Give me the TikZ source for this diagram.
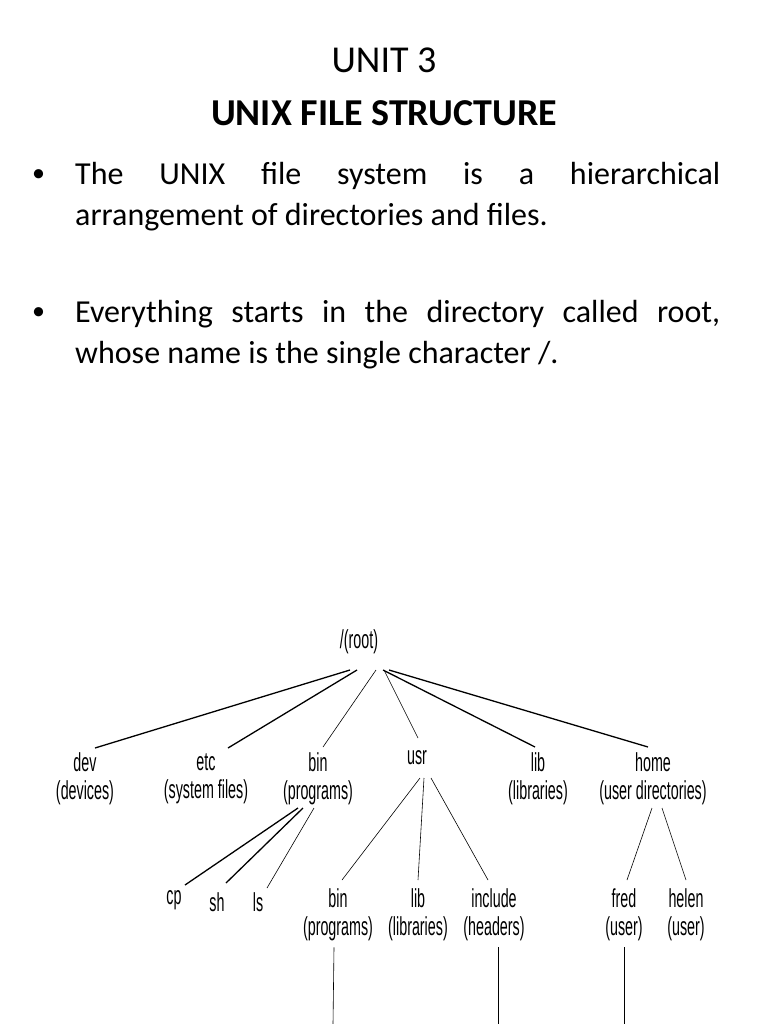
\documentclass[tikz,border=0pt]{standalone}
\usepackage{fontspec}
\setmainfont{Carlito}
\newfontfamily\treefont{Liberation Sans}
\begin{document}
\begin{tikzpicture}[x=1pt,y=-1pt,
  lab/.style={font=\treefont\fontsize{26}{28}\selectfont, xscale=0.55, align=center, inner sep=0pt},
  thick/.style={line width=1.3pt},
  thin/.style={line width=0.6pt},
  body/.style={font=\fontsize{32}{38}\selectfont, anchor=west, inner sep=0pt}]
\useasboundingbox (0,0) rectangle (768,1024);
\node (t1) at (384,60) {\fontsize{38}{44}\selectfont UNIT 3};
\node (t2) at (384,113) {\fontsize{38}{44}\selectfont\bfseries UNIX FILE STRUCTURE};
\node (b1d) at (32,176) [anchor=west, inner sep=0pt] {\fontsize{26}{35}\selectfont •};
\node (b1) at (75,176) [body] {\hbox to 645pt{The\hfill UNIX\hfill file\hfill system\hfill is\hfill a\hfill hierarchical}};
\node (b1b) at (75,217) [body] {arrangement of directories and files.};
\node (b2d) at (32,314) [anchor=west, inner sep=0pt] {\fontsize{26}{35}\selectfont •};
\node (b2) at (75,314) [body] {\hbox to 645pt{Everything\hfill starts\hfill in\hfill the\hfill directory\hfill called\hfill root,}};
\node (b2b) at (75,355) [body] {whose name is the single character /.};

\node[lab] (root) at (359,642) {/(root)};
\node[lab] (dev) at (85,779) {dev\\(devices)};
\node[lab] (etc) at (206,779) {etc\\(system files)};
\node[lab] (bin) at (318,779) {bin\\(programs)};
\node[lab] (usr) at (417,758) {usr};
\node[lab] (lib) at (538,779) {lib\\(libraries)};
\node[lab] (home) at (653,779) {home\\(user directories)};
\node[lab] (cp) at (174,900) {cp};
\node[lab] (sh) at (217,902) {sh};
\node[lab] (ls) at (258,902) {ls};
\node[lab] (bin2) at (338,915) {bin\\(programs)};
\node[lab] (lib2) at (418,915) {lib\\(libraries)};
\node[lab] (inc) at (494,915) {include\\(headers)};
\node[lab] (fred) at (624,915) {fred\\(user)};
\node[lab] (helen) at (686,915) {helen\\(user)};

\coordinate (r1) at (350,670); \coordinate (r2) at (357,670);
\coordinate (r4) at (383,670); \coordinate (r5) at (389,670); \coordinate (r0) at (376,670);
\coordinate (dT) at (95,748); \coordinate (eT) at (228,748); \coordinate (bT) at (323,747);
\coordinate (uT) at (418,738); \coordinate (lT) at (535,747); \coordinate (hT) at (648,747);
\draw[thick] (r1) -- (dT);
\draw[thick] (r2) -- (eT);
\draw[thin] (r0) -- (bT);
\draw[thin] (r0) ++(8,0) -- (uT);
\draw[thick] (r4) -- (lT);
\draw[thick] (r5) -- (hT);

\coordinate (bB1) at (298,808); \coordinate (bB2) at (303,808); \coordinate (bB3) at (314,808);
\draw[thick] (bB1) -- (185,885);
\draw[thick] (bB2) -- (226,883);
\draw[thin] (bB3) -- (267,888);

\coordinate (uB) at (424,778);
\draw[thin] (uB) ++(-4,0) -- (342,880);
\draw[thin] (uB) -- (418,880);
\draw[thin] (uB) ++(7,0) -- (488,880);

\draw[thin] (652,808) -- (627,880);
\draw[thin] (662,808) -- (686,880);

\draw[thin] (bin2.south) ++(-4,6) -- (333,1024);
\draw[thin] (inc.south) ++(4,6) -- (498,1024);
\draw[thin] (fred.south) ++(0,6) -- (624,1024);
\end{tikzpicture}
\end{document}
